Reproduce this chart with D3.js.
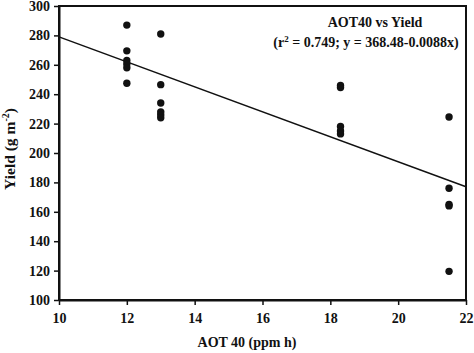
<!DOCTYPE html>
<html>
<head>
<meta charset="utf-8">
<script src="https://cdn.jsdelivr.net/npm/d3@7"></script>
<style>
    html, body { margin: 0; padding: 0; background: #fff; }
    svg text { font-family: "Liberation Serif", "Times New Roman", serif; font-weight: bold; fill: #111; }
</style>
</head>
<body>
<svg id="chart" width="474" height="353"></svg>
<script>
// --- data ---
const aot40 = [12, 12, 12, 12, 12, 12,
               13, 13, 13, 13, 13, 13,
               18.3, 18.3, 18.3, 18.3, 18.3,
               21.5, 21.5, 21.5, 21.5, 21.5];
const yieldVals = [287, 269.5, 263, 260.5, 258, 247.5,
                   281, 246.5, 234, 228, 226, 224,
                   246, 244.5, 218, 215, 213,
                   224.5, 176, 165, 164, 119.5];

// fitted line as drawn in the picture
const fitIntercept = 364;
const fitSlope = -8.5;
const fitRange = [10, 22];

const xTicks = [10, 12, 14, 16, 18, 20, 22];
const yTicks = [100, 120, 140, 160, 180, 200, 220, 240, 260, 280, 300];

const titleLine = "AOT40 vs Yield";

// --- layout ---
const margin = { left: 59, right: 8, top: 6, bottom: 53 };
const width = 474, height = 353;

const svg = d3.select("#chart");

const x = d3.scaleLinear().domain([10, 22]).range([margin.left, width - margin.right]);
const y = d3.scaleLinear().domain([100, 300]).range([height - margin.bottom, margin.top]);

// frame (top + right)
svg.append("rect")
    .attr("x", x(10)).attr("y", y(300))
    .attr("width", x(22) - x(10)).attr("height", y(100) - y(300))
    .attr("fill", "none").attr("stroke", "#111").attr("stroke-width", 2);

// axes
const xAxis = svg.append("g")
    .attr("transform", `translate(0,${y(100)})`)
    .call(d3.axisBottom(x).tickValues(xTicks).tickSize(5).tickPadding(8).tickSizeOuter(0));
const yAxis = svg.append("g")
    .attr("transform", `translate(${x(10)},0)`)
    .call(d3.axisLeft(y).tickValues(yTicks).tickSize(5).tickPadding(4).tickSizeOuter(0));

[xAxis, yAxis].forEach(g => {
    g.select(".domain").attr("stroke", "#111").attr("stroke-width", 2);
    g.selectAll(".tick line").attr("stroke", "#111").attr("stroke-width", 1.5);
    g.selectAll(".tick text")
        .attr("font-family", "Liberation Serif, Times New Roman, serif")
        .attr("font-weight", "bold")
        .attr("font-size", 14)
        .attr("fill", "#111");
});

// regression line
svg.append("line")
    .attr("x1", x(fitRange[0])).attr("y1", y(fitIntercept + fitSlope * fitRange[0]))
    .attr("x2", x(fitRange[1])).attr("y2", y(fitIntercept + fitSlope * fitRange[1]))
    .attr("stroke", "#111").attr("stroke-width", 1.5);

// points
svg.append("g").selectAll("circle")
    .data(aot40.map((a, i) => ({ a, v: yieldVals[i] })))
    .join("circle")
    .attr("cx", d => x(d.a))
    .attr("cy", d => y(d.v))
    .attr("r", 3.7)
    .attr("fill", "#111");

// annotation
svg.append("text")
    .attr("x", 375).attr("y", 27)
    .attr("text-anchor", "middle")
    .attr("font-size", 14)
    .text(titleLine);

const eq = svg.append("text")
    .attr("x", 366).attr("y", 47)
    .attr("text-anchor", "middle")
    .attr("font-size", 14);
eq.append("tspan").text("(r");
eq.append("tspan").attr("dy", -5).attr("font-size", 9).text("2");
eq.append("tspan").attr("dy", 5).text(" = 0.749; y = 368.48-0.0088x)");

// axis titles
svg.append("text")
    .attr("x", 247).attr("y", 347)
    .attr("text-anchor", "middle")
    .attr("font-size", 14)
    .text("AOT 40 (ppm h)");

const yl = svg.append("text")
    .attr("transform", `translate(15,149) rotate(-90)`)
    .attr("text-anchor", "middle")
    .attr("font-size", 15.5);
yl.append("tspan").text("Yield (g m");
yl.append("tspan").attr("dy", -6).attr("font-size", 10).text("-2");
yl.append("tspan").attr("dy", 6).text(")");
</script>
</body>
</html>
